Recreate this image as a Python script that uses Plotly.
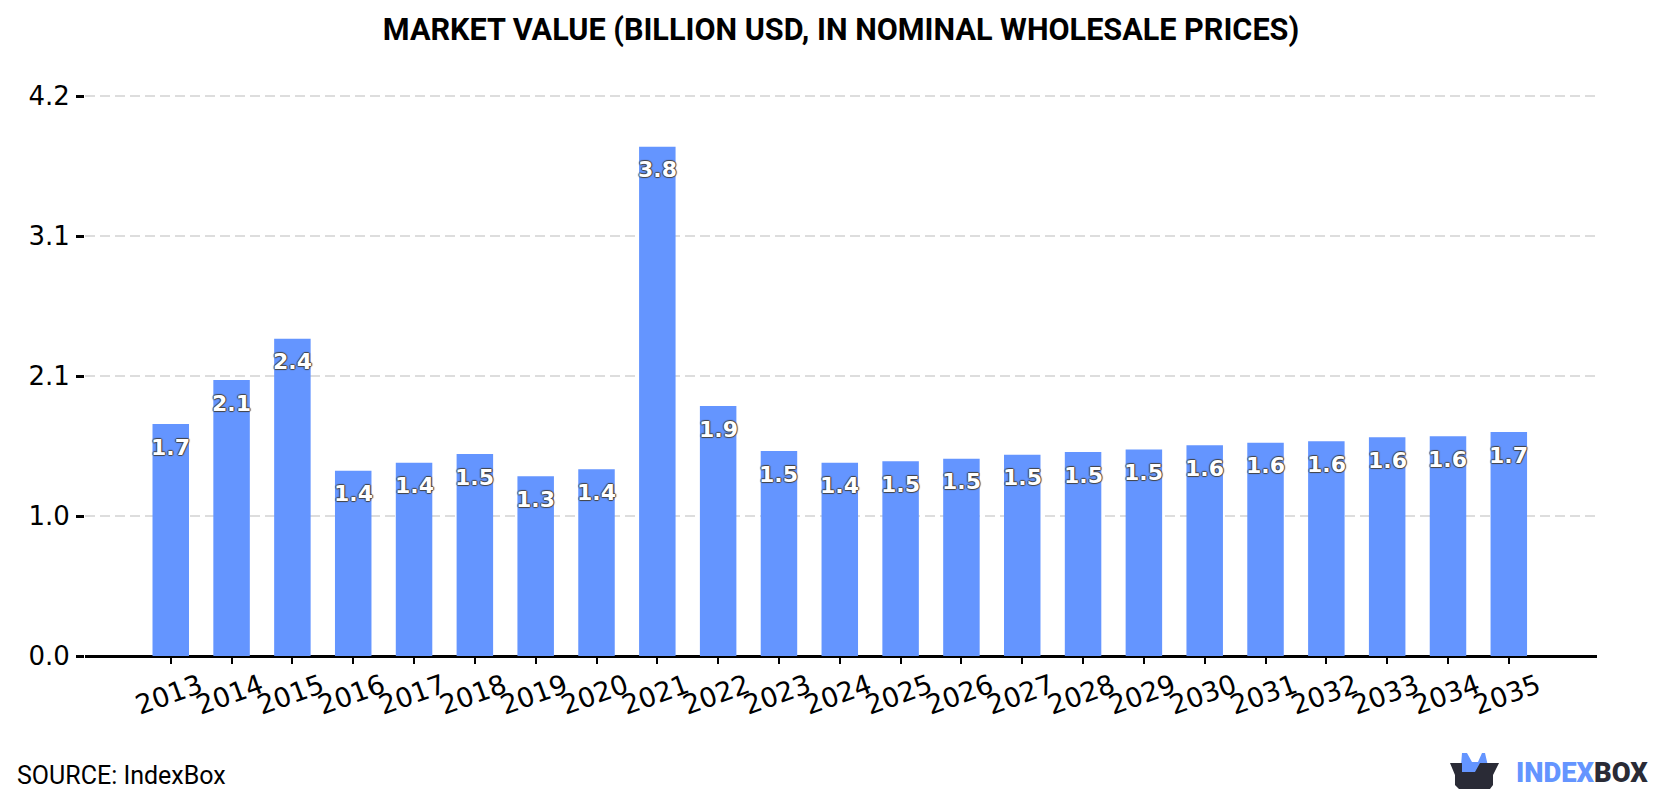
import plotly.graph_objects as go

years = list(range(2013, 2036))
values = [1.74, 2.07, 2.38, 1.39, 1.449, 1.515, 1.349, 1.40, 3.82, 1.875, 1.537, 1.449,
          1.46, 1.48, 1.51, 1.53, 1.549, 1.58, 1.60, 1.61, 1.64, 1.649, 1.68]
y_ticks = [0, 1.05, 2.1, 3.15, 4.2]
y_tick_labels = ["0.0", "1.0", "2.1", "3.1", "4.2"]

W, H = 1680, 800
LEFT, RIGHT, TOP, BOTTOM = 85, 1597, 84, 657
BAR = "#6495ff"
DARK = "#2a2b36"
HALO = "-1px 0 1px #444, 1px 0 1px #444, 0 -1px 1px #444, 0 1px 1px #444"


def px(x):
    return (x - LEFT) / (RIGHT - LEFT)


def py(y):
    return (BOTTOM - y) / (BOTTOM - TOP)


def logo_path(points):
    return "M " + " L ".join(f"{px(x):.5f},{py(y):.5f}" for x, y in points) + " Z"


fig = go.Figure(go.Bar(x=years, y=values, width=0.6, marker=dict(color=BAR, line_width=0)))

# Value labels sit just under the top of each bar
for year, value in zip(years, values):
    fig.add_annotation(
        x=year, y=value, yshift=-23, xref="x", yref="y", text=f"{value:.1f}",
        showarrow=False, yanchor="middle",
        font=dict(family="DejaVu Sans", size=22, color="white", weight="bold", shadow=HALO),
    )

# Footer text and the brand mark
fig.add_annotation(text="SOURCE: IndexBox", xref="paper", yref="paper", x=px(15), y=py(775),
                   xanchor="left", yanchor="middle", showarrow=False,
                   font=dict(family="Roboto", size=25, color="black"))
fig.add_annotation(text=f"<span style='color:{BAR}'>INDEX</span>BOX", xref="paper", yref="paper",
                   x=px(1514), y=py(773), xanchor="left", yanchor="middle", showarrow=False,
                   font=dict(family="Roboto", size=27.4, color=DARK, weight=900))

shapes = [
    dict(type="path", xref="paper", yref="paper", line_width=0, fillcolor=BAR,
         path=logo_path([(1461, 766), (1462, 753), (1467, 753), (1472, 762), (1478, 762),
                         (1482, 753), (1485, 753), (1488, 766), (1488, 772), (1475, 772), (1462, 772)])),
    dict(type="path", xref="paper", yref="paper", line_width=0, fillcolor=DARK,
         path=logo_path([(1450, 763), (1462, 763), (1462, 772), (1475, 772), (1480, 763), (1499, 763),
                         (1493, 775), (1493, 785), (1490, 789), (1459, 789), (1455, 785), (1455, 775)])),
]

fig.update_layout(
    width=W, height=H, autosize=False,
    margin=dict(l=LEFT, r=W - RIGHT, t=TOP, b=H - BOTTOM, pad=0),
    paper_bgcolor="white", plot_bgcolor="white",
    showlegend=False, shapes=shapes,
    title=dict(text="<b>MARKET VALUE (BILLION USD, IN NOMINAL WHOLESALE PRICES)</b>",
               x=0.5, xref="paper", xanchor="center", y=1 - 29 / H, yanchor="middle",
               font=dict(family="Roboto", size=30.6, color="black")),
    xaxis=dict(range=[2013 - 1.41, 2013 + 23.45], tickvals=years, tickformat="d", tickangle=-20,
               ticks="outside", ticklen=6, tickwidth=2, tickcolor="black",
               showline=False, showgrid=False, zeroline=False,
               ticklabelshift=29, ticklabelstandoff=-4,
               tickfont=dict(family="DejaVu Sans", size=27, color="black")),
    yaxis=dict(range=[-0.0075, 4.29], tickvals=y_ticks, ticktext=y_tick_labels,
               ticks="outside", ticklen=8, tickwidth=2.5, tickcolor="black",
               showline=False, showgrid=True, ticklabelstandoff=1,
               zeroline=True, zerolinecolor="black", zerolinewidth=3,
               gridcolor="#dddddd", gridwidth=2, griddash="10px,5px",
               tickfont=dict(family="DejaVu Sans", size=26, color="black")),
)

fig.write_html("out.html")
